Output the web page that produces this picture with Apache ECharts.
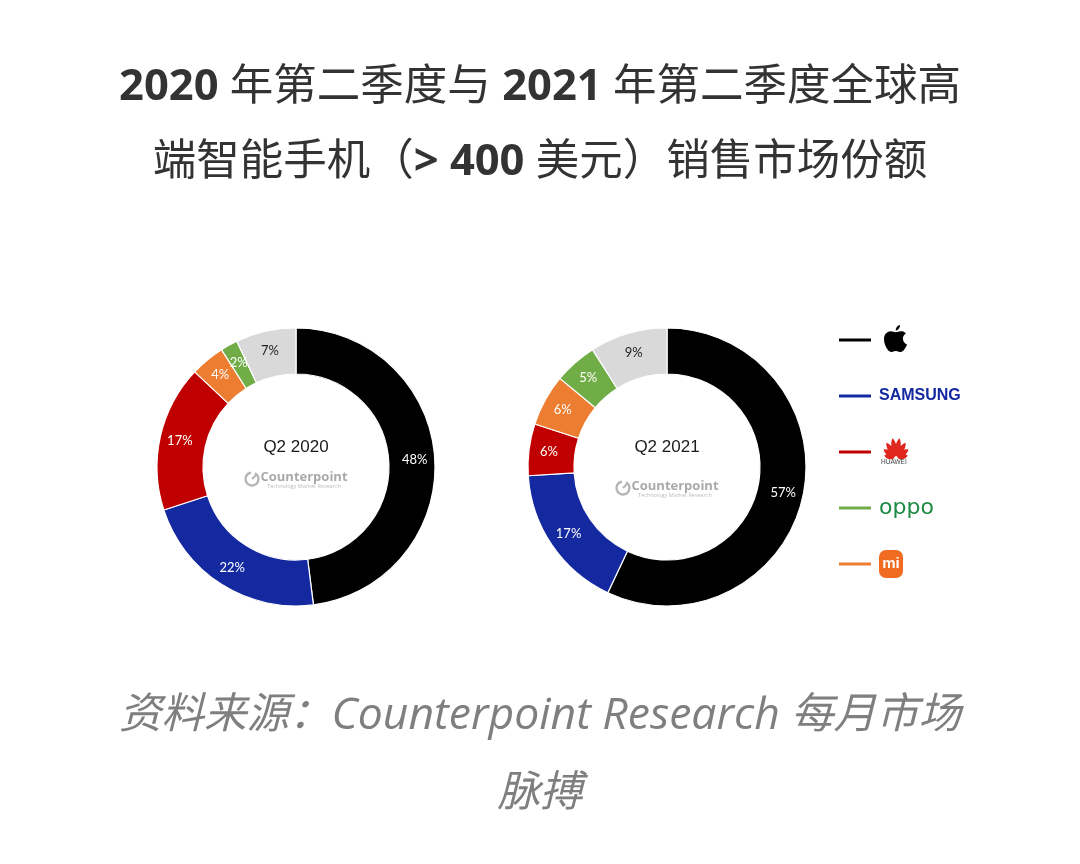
<!DOCTYPE html>
<html>
<head>
<meta charset="utf-8">
<script src="https://cdn.jsdelivr.net/npm/echarts@6/dist/echarts.min.js"></script>
<style>
html,body{margin:0;padding:0;background:#fff;}
#chart{width:1080px;height:864px;}
</style>
</head>
<body>
<div id="chart"></div>
<script>
// ---- data ----
const categories = ['Apple', 'Samsung', 'Huawei', 'Xiaomi', 'Oppo', 'Others'];
const share2020 = [48, 22, 17, 4, 2, 7];
const share2021 = [57, 17, 6, 6, 5, 9];
const periods = ['Q2 2020', 'Q2 2021'];
const legendOrder = ['Apple', 'Samsung', 'Huawei', 'Oppo', 'Xiaomi'];
const titleLine1 = ['2020', ' 年第二季度与 ', '2021', ' 年第二季度全球高'];
const titleLine2 = ['端智能手机（', '> 400', ' 美元）销售市场份额'];
const sourceLine1 = ['资料来源：', 'Counterpoint Research', ' 每月市场'];
const sourceLine2 = '脉搏';
const watermark = ['Counterpoint', 'Technology Market Research'];

// ---- styles / layout ----
const colors = {
  Apple: '#000000', Samsung: '#1428a0', Huawei: '#c00000',
  Xiaomi: '#ed7d31', Oppo: '#70ad47', Others: '#d9d9d9'
};
const pieCenters = [[296, 467], [667, 467]];
const logoOffsets = [10, 19];
const latinCJK = "'Open Sans','Noto Sans CJK SC',sans-serif";

// custom logo shapes
const APPLE_PATH = 'M13.5 0 C13.7 2.2 12.2 4.6 10 5 C9.7 2.8 11.4 0.4 13.5 0 Z ' +
  'M10 6.5 C8.8 6.5 7.5 5.6 5.8 5.6 C3 5.7 0 8 0 12.5 C0 17.5 3.2 24 6 24 C7.5 24 8 23 10 23 ' +
  'C12 23 12.4 24 14 24 C16.5 24 18.6 19.8 19.5 17.3 C17.3 16.3 16 14.3 16 12 C16 10 17.2 8.4 18.5 7.5 ' +
  'C17.3 5.8 15.5 5.6 14.3 5.6 C12.6 5.6 11.2 6.5 10 6.5 Z';
function runPath(ctx, d, x0, y0, sx, sy) {
  const t = d.replace(/([MCZ])/g, ' $1 ').trim().split(/\s+/);
  let i = 0;
  while (i < t.length) {
    const c = t[i++];
    if (c === 'M') { ctx.moveTo(x0 + sx * +t[i], y0 + sy * +t[i + 1]); i += 2; }
    else if (c === 'C') {
      ctx.bezierCurveTo(x0 + sx * +t[i], y0 + sy * +t[i + 1], x0 + sx * +t[i + 2], y0 + sy * +t[i + 3],
        x0 + sx * +t[i + 4], y0 + sy * +t[i + 5]);
      i += 6;
    } else if (c === 'Z') { ctx.closePath(); }
  }
}
const AppleShape = echarts.graphic.extendShape({
  shape: { x: 0, y: 0, width: 20, height: 24 },
  buildPath: function (ctx, s) { runPath(ctx, APPLE_PATH, s.x, s.y, s.width / 19.5, s.height / 24); }
});
const FlowerShape = echarts.graphic.extendShape({
  shape: { cx: 0, cy: 0, angles: [], lens: [] },
  buildPath: function (ctx, s) {
    s.angles.forEach(function (a, k) {
      const L = s.lens[k];
      const r = a * Math.PI / 180, cs = Math.cos(r), sn = Math.sin(r);
      const P = function (px, py) { return [s.cx + px * cs - py * sn, s.cy + px * sn + py * cs]; };
      const p0 = P(0, -1.5), c1 = P(-3.4, -L * 0.35), c2 = P(-3.4, -L * 0.8), p1 = P(0, -L),
        c3 = P(3.4, -L * 0.8), c4 = P(3.4, -L * 0.35);
      ctx.moveTo(p0[0], p0[1]);
      ctx.bezierCurveTo(c1[0], c1[1], c2[0], c2[1], p1[0], p1[1]);
      ctx.bezierCurveTo(c3[0], c3[1], c4[0], c4[1], p0[0], p0[1]);
      ctx.closePath();
    });
  }
});
echarts.graphic.registerShape('appleLogo', AppleShape);
echarts.graphic.registerShape('huaweiFlower', FlowerShape);

function buildData(values) {
  return categories.map((c, i) => ({
    name: c,
    value: values[i],
    itemStyle: { color: colors[c] },
    label: { color: c === 'Others' ? '#222' : '#fff' }
  }));
}

const chart = echarts.init(document.getElementById('chart'), null, { renderer: 'canvas' });

const series = [share2020, share2021].map((vals, k) => ({
  type: 'pie',
  name: periods[k],
  center: pieCenters[k],
  radius: [93, 139],
  startAngle: 90,
  clockwise: true,
  avoidLabelOverlap: false,
  silent: true,
  animation: false,
  itemStyle: { borderColor: '#fff', borderWidth: 1.2 },
  label: {
    show: true,
    position: 'inside',
    formatter: '{c}%',
    fontFamily: "Lato, 'Open Sans', sans-serif",
    fontSize: 13
  },
  labelLayout: { hideOverlap: false },
  labelLine: { show: false },
  data: buildData(vals)
}));

// center texts and watermark
const graphics = [];
pieCenters.forEach((c, k) => {
  const cx = c[0], cy = c[1], off = logoOffsets[k];
  graphics.push({
    type: 'text', x: cx, y: cy - 20,
    style: { text: periods[k], fill: '#1a1a1a', fontSize: 17,
      fontFamily: "'Liberation Sans', Arial, sans-serif",
      align: 'center', verticalAlign: 'middle' }
  });
  graphics.push({
    type: 'text', x: cx + 8, y: cy + off,
    style: { text: watermark[0], fill: '#a9a9a9', fontSize: 13, fontWeight: 'bold',
      fontFamily: "'Open Sans', sans-serif",
      align: 'center', verticalAlign: 'middle' }
  });
  graphics.push({
    type: 'text', x: cx + 8, y: cy + off + 9,
    style: { text: watermark[1], fill: '#bdbdbd', fontSize: 5.5,
      fontFamily: "'Open Sans', sans-serif",
      align: 'center', verticalAlign: 'middle' }
  });
  graphics.push({
    type: 'arc', shape: { cx: cx - 44, cy: cy + off + 2, r: 6.5, startAngle: -Math.PI * 0.35, endAngle: Math.PI * 1.45 },
    style: { stroke: '#b5b5b5', lineWidth: 2.4, fill: null }
  });
  graphics.push({
    type: 'line', shape: { x1: cx - 44, y1: cy + off + 2, x2: cx - 40, y2: cy + off - 2 },
    style: { stroke: '#b5b5b5', lineWidth: 2 }
  });
});

// Apple logo
graphics.push({
  type: 'appleLogo',
  shape: { x: 884, y: 325, width: 23, height: 27 },
  style: { fill: '#000' }
});
// Huawei petals
graphics.push({
  type: 'huaweiFlower',
  shape: { cx: 896, cy: 458, angles: [-78, -55, -32, -10, 10, 32, 55, 78], lens: [12, 15, 18, 20, 20, 18, 15, 12] },
  style: { fill: '#e0261d' }
});

const srcFont = "'Open Sans','Noto Sans CJK SC',sans-serif";
const option = {
  backgroundColor: '#ffffff',
  animation: false,
  title: [
    {
      left: 'center', top: 45,
      text: '{b|' + titleLine1[0] + '}{n|' + titleLine1[1] + '}{b|' + titleLine1[2] + '}{n|' + titleLine1[3] + '}\n' +
            '{n|' + titleLine2[0] + '}{b|' + titleLine2[1] + '}{n|' + titleLine2[2] + '}',
      textStyle: {
        fontSize: 43.5, lineHeight: 75, color: '#333', fontFamily: latinCJK,
        rich: {
          b: { fontSize: 43.5, lineHeight: 75, fontWeight: 'bold', color: '#333', fontFamily: latinCJK },
          n: { fontSize: 43.5, lineHeight: 75, fontWeight: 'normal', color: '#333', fontFamily: latinCJK }
        }
      }
    },
    {
      left: 'center', top: 672,
      text: '{c|' + sourceLine1[0] + '}{l|' + sourceLine1[1] + '}{c|' + sourceLine1[2] + '}\n{c|' + sourceLine2 + '}',
      textStyle: {
        fontSize: 42, lineHeight: 78, color: '#7f7f7f', fontStyle: 'italic',
        fontWeight: 'normal', fontFamily: srcFont, align: 'center',
        rich: {
          c: { fontSize: 42.5, lineHeight: 78, color: '#7f7f7f', fontStyle: 'italic', fontFamily: srcFont },
          l: { fontSize: 44.5, lineHeight: 78, color: '#7f7f7f', fontStyle: 'italic', fontFamily: srcFont }
        }
      }
    }
  ],
  legend: {
    orient: 'vertical',
    left: 832, top: 321,
    itemWidth: 34, itemHeight: 5,
    itemGap: 28,
    icon: 'rect',
    selectedMode: false,
    data: legendOrder.map(n => ({ name: n, itemStyle: { color: colors[n] } })),
    formatter: function (name) {
      if (name === 'Apple') return '{apple| }';
      if (name === 'Samsung') return '{samsung|SAMSUNG}';
      if (name === 'Huawei') return '{huawei|HUAWEI}';
      if (name === 'Oppo') return '{oppo|oppo}';
      if (name === 'Xiaomi') return '{mi|mi}';
      return name;
    },
    textStyle: {
      padding: [0, 0, 0, 2],
      rich: {
        apple: { width: 24, height: 28, lineHeight: 28 },
        samsung: { fontFamily: "'Liberation Sans', Arial, sans-serif", fontWeight: 'bold',
          fontSize: 16, color: '#1428a0', height: 28, lineHeight: 28 },
        huawei: { fontFamily: "'Liberation Sans', Arial, sans-serif", fontSize: 6.5,
          color: '#444', height: 8, lineHeight: 8, padding: [20, 0, 0, 2] },
        oppo: { fontFamily: "'DejaVu Sans', sans-serif", fontSize: 22, color: '#1e8a46',
          height: 28, lineHeight: 28 },
        mi: { fontFamily: "'Liberation Sans', Arial, sans-serif", fontWeight: 'bold', fontSize: 15,
          color: '#fff', backgroundColor: '#f06a1f', borderRadius: 7,
          width: 24, height: 24, lineHeight: 24, align: 'center', padding: [2, 0, 2, 0] }
      }
    }
  },
  graphic: graphics,
  series: series
};

chart.setOption(option);
</script>
</body>
</html>
